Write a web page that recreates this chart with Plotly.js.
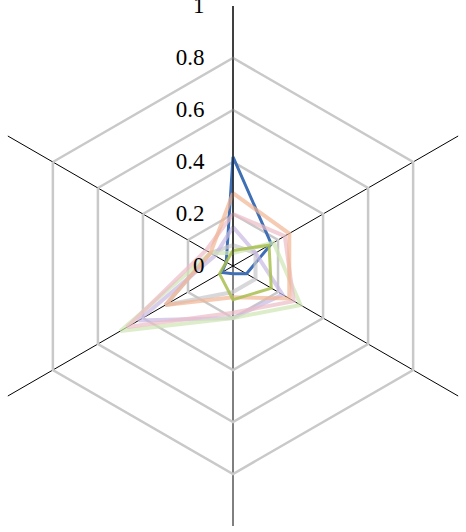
<!DOCTYPE html>
<html>
<head>
<meta charset="utf-8">
<script src="https://cdn.plot.ly/plotly-3.0.1.min.js"></script>
<style>
  html, body { margin: 0; padding: 0; background: #fff; overflow: hidden; }
  #chart { width: 520px; height: 532px; margin-left: -27px; }
</style>
</head>
<body>
<div id="chart"></div>
<script>
// six spokes, top first, going clockwise
var categories = ["A", "B", "C", "D", "E", "F"];

var blueVals     = [0.42, 0.17, 0.06, 0.03, 0.05, 0.03];
var salmonVals   = [0.28, 0.25, 0.25, 0.12, 0.30, 0.10];
var greenVals    = [0.06, 0.16, 0.17, 0.13, 0.06, 0.03];
var pinkVals     = [0.20, 0.23, 0.27, 0.18, 0.47, 0.12];
var lavenderVals = [0.15, 0.10, 0.22, 0.20, 0.42, 0.08];
var mintVals     = [0.05, 0.18, 0.30, 0.20, 0.50, 0.10];
var greyVals     = [0.08, 0.10, 0.10, 0.10, 0.30, 0.10];

var radialTicks = [0, 0.2, 0.4, 0.6, 0.8, 1];

function closed(arr) {
    return arr.concat([arr[0]]);
}

function series(vals, color, width, opacity) {
    return {
        type: 'scatterpolar',
        r: closed(vals),
        theta: closed(categories),
        mode: 'lines',
        line: {color: color, width: width},
        opacity: opacity,
        hoverinfo: 'skip',
        showlegend: false
    };
}

var traces = [
    series(blueVals, '#3f6fb4', 3, 1),
    series(greyVals, '#c8c8cc', 4, 0.7),
    series(lavenderVals, '#c7b9e2', 4, 0.7),
    series(mintVals, '#cfe5b4', 4, 0.7),
    series(pinkVals, '#ecbcc8', 4, 0.7),
    series(salmonVals, '#f2b594', 4, 0.7),
    series(greenVals, '#a8bf4f', 3, 0.85)
];

var layout = {
    width: 520,
    height: 532,
    margin: {l: 0, r: 0, t: 4, b: 4},
    paper_bgcolor: '#fff',
    showlegend: false,
    polar: {
        bgcolor: '#fff',
        gridshape: 'linear',
        domain: {x: [0, 1], y: [0, 1]},
        radialaxis: {
            range: [0, 1],
            tickvals: radialTicks,
            ticktext: radialTicks.map(String),
            angle: 90,
            tickangle: 90,
            side: 'counterclockwise',
            showline: true,
            linecolor: '#000',
            linewidth: 1,
            gridcolor: '#c9c9c9',
            gridwidth: 2.5,
            // invisible ticks just push the labels off the axis
            ticks: 'outside',
            ticklen: 20,
            tickcolor: 'rgba(0,0,0,0)',
            tickfont: {family: 'Liberation Serif', size: 23, color: '#000'}
        },
        angularaxis: {
            type: 'category',
            categoryarray: categories,
            rotation: 90,
            direction: 'clockwise',
            showline: false,
            showticklabels: false,
            ticks: '',
            gridcolor: '#000',
            gridwidth: 1
        }
    }
};

Plotly.newPlot('chart', traces, layout, {staticPlot: true});
</script>
</body>
</html>
